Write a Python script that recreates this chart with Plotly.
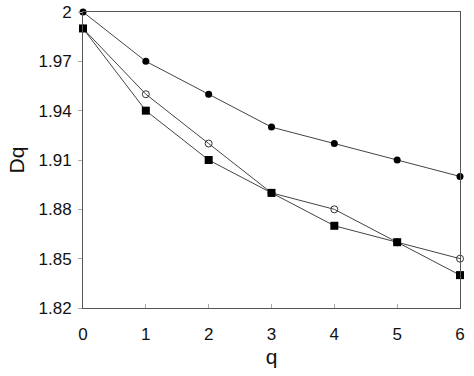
import plotly.graph_objects as go

q = [0, 1, 2, 3, 4, 5, 6]
filled_circles = [2.00, 1.97, 1.95, 1.93, 1.92, 1.91, 1.90]
open_circles = [1.99, 1.95, 1.92, 1.89, 1.88, 1.86, 1.85]
squares = [1.99, 1.94, 1.91, 1.89, 1.87, 1.86, 1.84]
y_ticks = [1.82, 1.85, 1.88, 1.91, 1.94, 1.97, 2.0]
y_tick_text = ["1.82", "1.85", "1.88", "1.91", "1.94", "1.97", "2"]

line = dict(color="#444444", width=1)
fig = go.Figure()
fig.add_trace(go.Scatter(x=q, y=filled_circles, mode="lines+markers", line=line,
                         marker=dict(symbol="circle", size=7, color="black"), cliponaxis=False))
fig.add_trace(go.Scatter(x=q, y=open_circles, mode="lines+markers", line=line,
                         marker=dict(symbol="circle-open", size=7, color="#333333", line=dict(width=1)), cliponaxis=False))
fig.add_trace(go.Scatter(x=q, y=squares, mode="lines+markers", line=line,
                         marker=dict(symbol="square", size=8, color="black"), cliponaxis=False))

fig.update_layout(
    width=474, height=376,
    margin=dict(l=83, r=14, t=12, b=68),
    plot_bgcolor="white", paper_bgcolor="white",
    showlegend=False,
    font=dict(family="Arial, Liberation Sans, sans-serif", size=17, color="#111111"),
    xaxis=dict(range=[0, 6], tickvals=q, showgrid=False, zeroline=False, automargin=False,
               showline=True, linecolor="#555555", linewidth=1, mirror=True,
               ticks="inside", ticklen=4, tickcolor="#aaaaaa", ticklabelstandoff=11,
               title=dict(text="q", font=dict(size=21), standoff=5)),
    yaxis=dict(range=[1.82, 2.0], tickvals=y_ticks, ticktext=y_tick_text, showgrid=False, zeroline=False,
               automargin=False,
               showline=True, linecolor="#555555", linewidth=1, mirror=True,
               ticks="outside", ticklen=4, tickcolor="#aaaaaa", ticklabelstandoff=3,
               title=dict(text="Dq", font=dict(size=21), standoff=8)),
)
fig.write_html("out.html", config={"displayModeBar": False},
               post_script="document.body.style.margin='0';")
